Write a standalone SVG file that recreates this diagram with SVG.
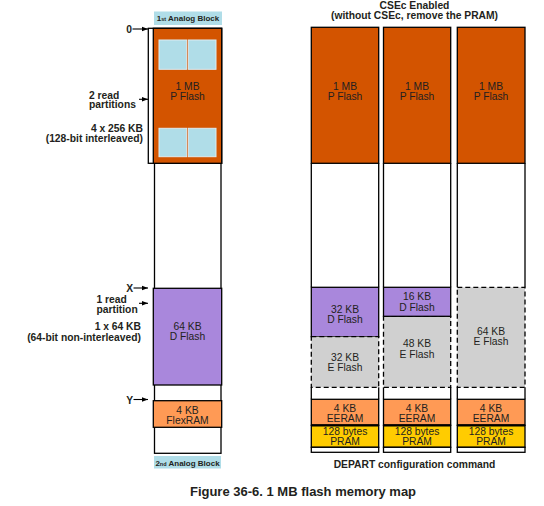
<svg xmlns="http://www.w3.org/2000/svg" width="544" height="506" viewBox="0 0 544 506">
<defs>
<marker id="ah" markerWidth="6" markerHeight="6" refX="6" refY="3" orient="auto" markerUnits="userSpaceOnUse"><path d="M0,0.8 L6,3 L0,5.2 Z" fill="#000"/></marker>
<style>
text{font-family:"Liberation Sans",Arial,sans-serif;fill:#231f20}
.n{font-size:10.3px;text-anchor:middle}
.b{font-size:10.3px;font-weight:bold}
.r{text-anchor:end}
.m{text-anchor:middle}
.ab{font-size:8px;font-weight:bold;text-anchor:middle}
.sup{font-size:5.5px}
.s{stroke:#000;stroke-width:1.3}
.d{stroke:#000;stroke-width:1.3;stroke-dasharray:5,3}
.pf{fill:#d35400}
.df{fill:#a987dc}
.ef{fill:#d0d0d0}
.er{fill:#ff9a55}
.pr{fill:#ffcc00}
.wh{fill:#fff}
.lb{fill:#b0dde8}
.sq{fill:#b0dde8;stroke:#dcecf2;stroke-width:1}
.ln{stroke:#000;stroke-width:1.1;fill:none}
</style>
</defs>
<rect width="544" height="506" fill="#fff"/>

<g id="left-labels">
<text class="b r" x="132" y="33">0</text>
<text class="b" x="89" y="98.5">2 read</text>
<text class="b" x="89" y="108">partitions</text>
<text class="b r" x="143" y="131.5">4 x 256 KB</text>
<text class="b r" x="143" y="142">(128-bit interleaved)</text>
<text class="b r" x="133" y="291.5">X</text>
<text class="b" x="96.5" y="303">1 read</text>
<text class="b" x="96.5" y="312.5">partition</text>
<text class="b r" x="141" y="329.7">1 x 64 KB</text>
<text class="b r" x="141" y="341">(64-bit non-interleaved)</text>
<text class="b r" x="133" y="404">Y</text>
</g>

<g id="connectors">
<line class="ln" x1="132.5" y1="29" x2="148" y2="29" marker-end="url(#ah)"/>
<line class="ln" x1="139" y1="99.3" x2="148" y2="99.3" marker-end="url(#ah)"/>
<line class="ln" x1="133.5" y1="288" x2="148" y2="288" marker-end="url(#ah)"/>
<line class="ln" x1="139" y1="303.3" x2="148" y2="303.3" marker-end="url(#ah)"/>
<line class="ln" x1="133.5" y1="399.5" x2="148" y2="399.5" marker-end="url(#ah)"/>
</g>

<g id="analog-block-1">
<rect class="lb" x="154" y="11.5" width="68" height="13.5"/>
<text class="ab" x="188" y="21">1<tspan class="sup">st</tspan> Analog Block</text>
</g>

<g id="left-column">
<rect class="wh s" x="154.5" y="163.3" width="66.5" height="290"/>
<rect class="wh s" x="148.3" y="28.3" width="73.4" height="135"/>
</g>

<g id="left-pflash">
<rect class="pf s" x="153.3" y="28.3" width="68.4" height="135"/>
<rect class="sq" x="159" y="40" width="27.7" height="29.3"/>
<rect class="sq" x="188.3" y="40" width="27.7" height="29.3"/>
<rect class="sq" x="159" y="128.3" width="27.7" height="28.4"/>
<rect class="sq" x="188.3" y="128.3" width="27.7" height="28.4"/>
<text class="n" x="187.5" y="90">1 MB</text>
<text class="n" x="187.5" y="100.3">P Flash</text>
</g>

<g id="left-dflash">
<rect class="df s" x="153.3" y="288.3" width="68.4" height="96.7"/>
<text class="n" x="187.5" y="329.5">64 KB</text>
<text class="n" x="187.5" y="339.8">D Flash</text>
</g>

<g id="left-flexram">
<rect class="er s" x="153.3" y="400.7" width="68.4" height="26.6"/>
<text class="n" x="187.5" y="413.5">4 KB</text>
<text class="n" x="187.5" y="423.8">FlexRAM</text>
</g>

<g id="analog-block-2">
<rect class="lb" x="154" y="456" width="67" height="12.5"/>
<text class="ab" x="187.5" y="465.5">2<tspan class="sup">nd</tspan> Analog Block</text>
</g>

<g id="title">
<text class="b m" x="414.5" y="9.3">CSEc Enabled</text>
<text class="b m" x="414.5" y="19.3">(without CSEc, remove the PRAM)</text>
</g>

<g id="col1">
<rect class="pf s" x="311.3" y="27.3" width="67.4" height="136"/>
<text class="n" x="345" y="90">1 MB</text>
<text class="n" x="345" y="100.3">P Flash</text>
<path class="s" d="M311.3,163.3 V287.3 M378.7,163.3 V287.3 M311.3,387.3 V399.3 M378.7,387.3 V399.3"/>
<rect class="df s" x="311.3" y="287.3" width="67.4" height="49.4"/>
<text class="n" x="345" y="313">32 KB</text>
<text class="n" x="345" y="323.3">D Flash</text>
<rect class="ef d" x="311.3" y="336.7" width="67.4" height="50.6"/>
<text class="n" x="345" y="361">32 KB</text>
<text class="n" x="345" y="371.3">E Flash</text>
<rect class="er s" x="311.3" y="399.3" width="67.4" height="26"/>
<text class="n" x="345" y="411.8">4 KB</text>
<text class="n" x="345" y="421.6">EERAM</text>
<rect class="pr s" x="311.3" y="425.3" width="67.4" height="22"/>
<line x1="311.3" y1="425.3" x2="378.7" y2="425.3" stroke="#000" stroke-width="2.2"/>
<text class="n" x="345" y="435.3">128 bytes</text>
<text class="n" x="345" y="445.2">PRAM</text>
<rect class="wh s" x="311.3" y="447.3" width="67.4" height="5"/>
</g>

<g id="col2">
<rect class="pf s" x="383.5" y="27.3" width="67.2" height="136"/>
<text class="n" x="417" y="90">1 MB</text>
<text class="n" x="417" y="100.3">P Flash</text>
<path class="s" d="M383.5,163.3 V287.3 M450.7,163.3 V287.3 M383.5,387.3 V399.3 M450.7,387.3 V399.3"/>
<rect class="ef d" x="383.5" y="316.3" width="67.2" height="71"/>
<rect class="df s" x="383.5" y="287.3" width="67.2" height="29"/>
<text class="n" x="417" y="300.3">16 KB</text>
<text class="n" x="417" y="310.6">D Flash</text>
<text class="n" x="417" y="347">48 KB</text>
<text class="n" x="417" y="357.5">E Flash</text>
<rect class="er s" x="383.5" y="399.3" width="67.2" height="26"/>
<text class="n" x="417" y="411.8">4 KB</text>
<text class="n" x="417" y="421.6">EERAM</text>
<rect class="pr s" x="383.5" y="425.3" width="67.2" height="22"/>
<line x1="383.5" y1="425.3" x2="450.7" y2="425.3" stroke="#000" stroke-width="2.2"/>
<text class="n" x="417" y="435.3">128 bytes</text>
<text class="n" x="417" y="445.2">PRAM</text>
<rect class="wh s" x="383.5" y="447.3" width="67.2" height="5"/>
</g>

<g id="col3">
<rect class="pf s" x="457.3" y="27.3" width="67.7" height="136"/>
<text class="n" x="491" y="90">1 MB</text>
<text class="n" x="491" y="100.3">P Flash</text>
<path class="s" d="M457.3,163.3 V287.3 M525,163.3 V287.3 M457.3,387.3 V399.3 M525,387.3 V399.3"/>
<rect class="ef d" x="457.3" y="287.3" width="67.7" height="100"/>
<text class="n" x="491" y="335">64 KB</text>
<text class="n" x="491" y="345.3">E Flash</text>
<rect class="er s" x="457.3" y="399.3" width="67.7" height="26"/>
<text class="n" x="491" y="411.8">4 KB</text>
<text class="n" x="491" y="421.6">EERAM</text>
<rect class="pr s" x="457.3" y="425.3" width="67.7" height="22"/>
<line x1="457.3" y1="425.3" x2="525" y2="425.3" stroke="#000" stroke-width="2.2"/>
<text class="n" x="491" y="435.3">128 bytes</text>
<text class="n" x="491" y="445.2">PRAM</text>
<rect class="wh s" x="457.3" y="447.3" width="67.7" height="5"/>
</g>

<g id="footer">
<text class="b m" x="414.5" y="468">DEPART configuration command</text>
<text class="m" x="303" y="496" style="font-size:13px;font-weight:bold">Figure 36-6. 1 MB flash memory map</text>
</g>
</svg>
